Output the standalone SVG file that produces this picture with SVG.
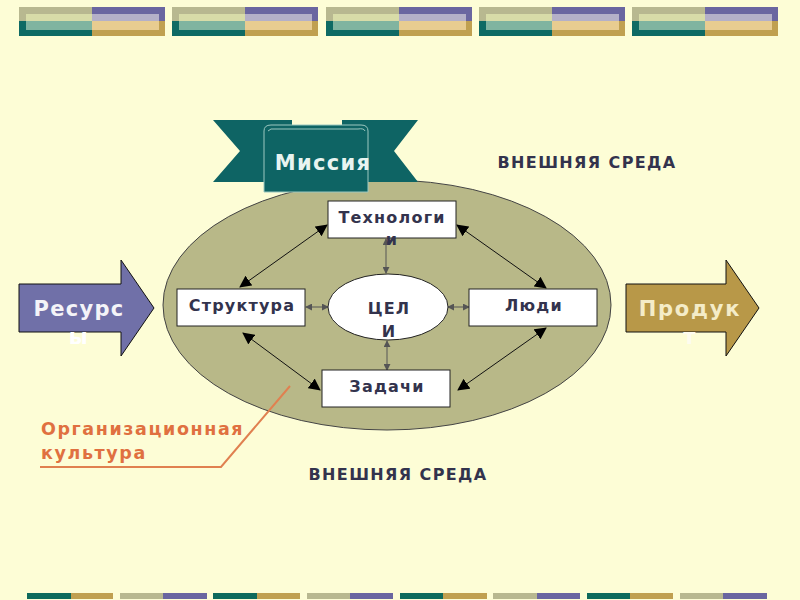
<svg xmlns="http://www.w3.org/2000/svg" width="800" height="600" viewBox="0 0 800 600">
<defs>
<style>
.box{fill:#ffffff;stroke:#222222;stroke-width:1}
.bt{font-family:"DejaVu Sans",Verdana,sans-serif;font-weight:bold;font-size:16px;letter-spacing:1.2px;fill:#33334d;text-anchor:middle}
.env{font-family:"DejaVu Sans",Verdana,sans-serif;font-weight:bold;font-size:16px;letter-spacing:1.4px;fill:#33334d;text-anchor:middle}
.big{stroke:#111111;stroke-width:1;fill:none;marker-start:url(#bigA);marker-end:url(#bigA)}
.sm{stroke:#555555;stroke-width:1;fill:none;marker-start:url(#smA);marker-end:url(#smA)}
.at{font-family:"DejaVu Sans",Verdana,sans-serif;font-weight:bold;font-size:21px;letter-spacing:1.3px;text-anchor:middle}
.oc{font-family:"DejaVu Sans",Verdana,sans-serif;font-weight:bold;font-size:17.5px;letter-spacing:1.6px;fill:#e07040}
</style>
<marker id="bigA" viewBox="0 0 12 12" refX="11" refY="6" markerWidth="12" markerHeight="12" markerUnits="userSpaceOnUse" orient="auto-start-reverse">
<path d="M0,0 L12,6 L0,12 Z" fill="#000000"/>
</marker>
<marker id="smA" viewBox="0 0 8 8" refX="7" refY="4" markerWidth="7" markerHeight="7" markerUnits="userSpaceOnUse" orient="auto-start-reverse">
<path d="M0,0 L8,4 L0,8 Z" fill="#555555"/>
</marker>
<g id="topBlock">
<rect x="0" y="0" width="73" height="14" fill="#b8b890"/>
<rect x="0" y="14" width="73" height="15" fill="#0e6a64"/>
<rect x="7" y="7" width="66" height="7" fill="#d8dca8"/>
<rect x="7" y="14" width="66" height="9" fill="#80b4a0"/>
<rect x="73" y="0" width="73" height="14" fill="#6a66a0"/>
<rect x="73" y="14" width="73" height="15" fill="#c0a050"/>
<rect x="73" y="7" width="67" height="7" fill="#b4b0c8"/>
<rect x="73" y="14" width="67" height="9" fill="#e8cc90"/>
</g>
</defs>
<rect width="800" height="600" fill="#fdfdd6"/>
<g id="top-bars">
<use href="#topBlock" x="19" y="7"/>
<use href="#topBlock" x="172" y="7"/>
<use href="#topBlock" x="326" y="7"/>
<use href="#topBlock" x="479" y="7"/>
<use href="#topBlock" x="632" y="7"/>
</g>
<g id="bottom-bars">
<rect x="27" y="593" width="44" height="6" fill="#0e6a5c"/><rect x="71" y="593" width="42" height="6" fill="#c0a050"/>
<rect x="120" y="593" width="43" height="6" fill="#b8b890"/><rect x="163" y="593" width="44" height="6" fill="#6a66a0"/>
<rect x="213" y="593" width="44" height="6" fill="#0e6a5c"/><rect x="257" y="593" width="43" height="6" fill="#c0a050"/>
<rect x="307" y="593" width="43" height="6" fill="#b8b890"/><rect x="350" y="593" width="43" height="6" fill="#6a66a0"/>
<rect x="400" y="593" width="43" height="6" fill="#0e6a5c"/><rect x="443" y="593" width="44" height="6" fill="#c0a050"/>
<rect x="493" y="593" width="44" height="6" fill="#b8b890"/><rect x="537" y="593" width="43" height="6" fill="#6a66a0"/>
<rect x="587" y="593" width="43" height="6" fill="#0e6a5c"/><rect x="630" y="593" width="43" height="6" fill="#c0a050"/>
<rect x="680" y="593" width="43" height="6" fill="#b8b890"/><rect x="723" y="593" width="44" height="6" fill="#6a66a0"/>
</g>
<g id="environment">
<ellipse cx="387" cy="305" rx="224" ry="125" fill="#b8b888" stroke="#444444" stroke-width="1"/>
</g>
<g id="mission">
<polygon points="213,120 292,120 292,182 213,182 240,151" fill="#0e6464"/>
<polygon points="342,120 418,120 394,151 418,182 342,182" fill="#0e6464"/>
<path d="M264,131 Q264,125 271,125 L361,125 Q368,125 368,131 L368,192 L264,192 Z" fill="#0e6464" stroke="#9cc8c0" stroke-width="1"/>
<path d="M268,131 Q270,128 276,129 L358,129 Q364,128 365,131" fill="none" stroke="#9cc8c0" stroke-width="1"/>
<text x="323" y="170" class="at" fill="#e8f4f0">Миссия</text>
</g>
<g id="resources">
<polygon points="19,284 121,284 121,260 154,308 121,356 121,332 19,332" fill="#7070a8" stroke="#111111" stroke-width="1"/>
<text x="79" y="316" class="at" fill="#f4f4f8">Ресурс</text>
<text x="79" y="344" class="at" fill="#ffffff">ы</text>
</g>
<g id="products">
<polygon points="626,284 726,284 726,260 759,308 726,356 726,332 626,332" fill="#b89848" stroke="#111111" stroke-width="1"/>
<text x="690" y="316" class="at" fill="#f4ecc8" style="letter-spacing:1.8px">Продук</text>
<text x="690" y="344" class="at" fill="#fdfcf0">т</text>
</g>
<g id="connectors">
<line x1="240" y1="287" x2="327" y2="225" class="big"/>
<line x1="457" y1="225" x2="546" y2="288" class="big"/>
<line x1="546" y1="328" x2="458" y2="390" class="big"/>
<line x1="320" y1="390" x2="243" y2="333" class="big"/>
<line x1="386" y1="239" x2="386" y2="273" class="sm"/>
<line x1="306" y1="307" x2="328" y2="307" class="sm"/>
<line x1="448" y1="307" x2="469" y2="307" class="sm"/>
<line x1="387" y1="341" x2="387" y2="370" class="sm"/>
</g>
<g id="tech">
<rect x="328" y="201" width="128" height="37" class="box"/>
<text x="392" y="223" class="bt">Технологи</text>
<text x="392" y="245" class="bt">и</text>
</g>
<g id="structure">
<rect x="177" y="289" width="128" height="37" class="box"/>
<text x="242" y="311" class="bt">Структура</text>
</g>
<g id="people">
<rect x="469" y="289" width="128" height="37" class="box"/>
<text x="534" y="311" class="bt">Люди</text>
</g>
<g id="tasks">
<rect x="322" y="370" width="128" height="37" class="box"/>
<text x="387" y="392" class="bt">Задачи</text>
</g>
<g id="goals">
<ellipse cx="388" cy="307" rx="60" ry="33" fill="#ffffff" stroke="#222222" stroke-width="1"/>
<text x="389" y="314" class="bt">ЦЕЛ</text>
<text x="389" y="337" class="bt">И</text>
</g>
<text x="587" y="168" class="env">ВНЕШНЯЯ СРЕДА</text>
<text x="398" y="480" class="env">ВНЕШНЯЯ СРЕДА</text>
<g id="culture">
<polyline points="40,467 221,467 290,386" fill="none" stroke="#e08050" stroke-width="2"/>
<text x="41" y="435" class="oc">Организационная</text>
<text x="41" y="459" class="oc">культура</text>
</g>
</svg>
